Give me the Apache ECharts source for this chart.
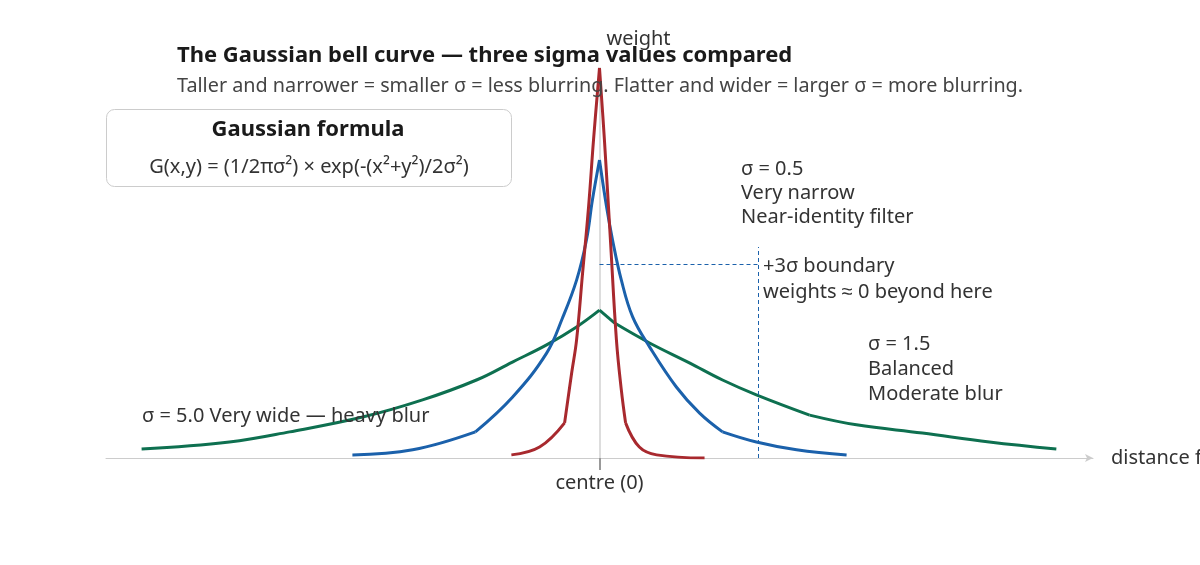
<!DOCTYPE html>
<html>
<head>
<meta charset="utf-8">
<script src="https://cdn.jsdelivr.net/npm/echarts@6/dist/echarts.min.js"></script>
<style>
  html, body { margin: 0; padding: 0; background: #fff; }
  #chart { width: 1200px; height: 565px; }
</style>
</head>
<body>
<div id="chart"></div>
<script>
// points: [distance, weight]
const sigma05 = [
  [-2.5, 0.008], [-1.7, 0.028], [-0.99, 0.09], [-0.79, 0.218], [-0.65, 0.303],
  [-0.48, 0.474], [-0.31, 0.644], [-0.17, 0.815], [0, 1.0], [0.14, 0.815],
  [0.31, 0.559], [0.48, 0.303], [0.62, 0.174], [0.74, 0.09], [1.13, 0.028],
  [1.62, 0.008], [2.98, 0.0]
];
const sigma15 = [
  [-7.01, 0.008], [-5.3, 0.021], [-3.52, 0.067], [-2.47, 0.156], [-1.5, 0.269],
  [-1.05, 0.359], [-0.65, 0.456], [-0.37, 0.559], [-0.2, 0.662], [0, 0.764],
  [0.2, 0.644], [0.37, 0.559], [0.62, 0.456], [0.94, 0.362], [1.42, 0.285],
  [2.18, 0.182], [2.84, 0.115], [3.49, 0.067], [4.45, 0.041], [5.59, 0.021],
  [7.01, 0.008]
];
const sigma50 = [
  [-12.99, 0.023], [-10.5, 0.041], [-8.79, 0.067], [-6.72, 0.105], [-5.02, 0.149],
  [-3.49, 0.2], [-2.47, 0.246], [-1.5, 0.29], [-0.65, 0.336], [0, 0.379],
  [0.43, 0.346], [1.42, 0.295], [2.55, 0.244], [3.49, 0.2], [4.45, 0.162],
  [5.96, 0.11], [7.29, 0.085], [9.16, 0.064], [11.06, 0.041], [12.96, 0.023]
];
// where the drawn curves have visible corners
const corners05 = [-0.99, 0, 0.74];
const corners15 = [-3.52, 0, 3.49];
const corners50 = [0, 0.43, 5.96];

const boundaryX = 4.5;
const boundaryY = 0.497;
const boundaryTop = 0.541;

const font = "'Segoe UI', 'Noto Sans', sans-serif";
const txt = '#333';

const myChart = echarts.init(document.getElementById('chart'));

// smooth each piece between corners on its own so the corners stay sharp
const curve = (name, data, corners, color) => {
  const pieces = [];
  let cur = [];
  data.forEach((p) => {
    cur.push(p);
    if (corners.includes(p[0])) {
      if (cur.length > 1) pieces.push(cur);
      cur = [p];
    }
  });
  if (cur.length > 1) pieces.push(cur);
  return pieces.map((piece) => ({
    name: name,
    type: 'line',
    data: piece,
    smooth: 0.4,
    showSymbol: false,
    lineStyle: { color: color, width: 3, join: 'round' },
    z: 3
  }));
};

const option = {
  animation: false,
  textStyle: { fontFamily: font },
  title: {
    text: 'The Gaussian bell curve — three sigma values compared',
    subtext: 'Taller and narrower = smaller σ = less blurring. Flatter and wider = larger σ = more blurring.',
    left: 172,
    top: 40,
    itemGap: 9,
    textStyle: { fontFamily: font, fontSize: 22, fontWeight: 'bold', color: '#1a1a1a' },
    subtextStyle: { fontFamily: font, fontSize: 19.8, color: '#444' }
  },
  grid: { left: 106, right: 107, top: 68, bottom: 107, outerBoundsMode: 'none' },
  xAxis: {
    type: 'value',
    min: -14,
    max: 14,
    name: 'distance from centre',
    nameGap: 18,
    nameTextStyle: { fontSize: 20, color: txt },
    splitLine: { show: false },
    axisLine: {
      lineStyle: { color: '#ccc', width: 1 },
      symbol: ['none', 'arrow'],
      symbolSize: [6, 8]
    },
    axisTick: { customValues: [0], length: 12, lineStyle: { color: '#999', width: 2 } },
    axisLabel: {
      customValues: [0],
      formatter: (v) => (v === 0 ? 'centre (0)' : ''),
      fontSize: 20,
      color: txt,
      margin: 15
    }
  },
  yAxis: {
    type: 'value',
    min: 0,
    max: 1,
    name: 'weight',
    nameGap: 19,
    nameTextStyle: { fontSize: 20, color: txt, align: 'left', padding: [0, 0, 0, 7] },
    splitLine: { show: false },
    axisLine: { lineStyle: { color: '#ddd', width: 2 } },
    axisTick: { show: false },
    axisLabel: { show: false }
  },
  series: [
    ...curve('σ = 5.0', sigma50, corners50, '#0e7050'),
    ...curve('σ = 1.5', sigma15, corners15, '#1b61ab'),
    ...curve('σ = 0.5', sigma05, corners05, '#a8292e'),
    {
      type: 'line',
      data: [],
      markLine: {
        silent: true,
        symbol: 'none',
        label: { show: false },
        lineStyle: { color: '#1b61ab', type: [4, 3], width: 1 },
        data: [
          [{ coord: [0, boundaryY] }, { coord: [boundaryX, boundaryY] }],
          [{ coord: [boundaryX, 0] }, { coord: [boundaryX, boundaryTop] }]
        ]
      }
    }
  ],
  graphic: [
    {
      type: 'rect',
      shape: { x: 106.5, y: 109.5, width: 405, height: 77, r: 8 },
      style: { fill: '#fff', stroke: '#ccc', lineWidth: 1 },
      z: 10
    },
    {
      type: 'text', x: 308, y: 130, z: 11,
      style: { text: 'Gaussian formula', font: 'bold 22px ' + font, fill: '#1a1a1a', align: 'center', verticalAlign: 'middle' }
    },
    {
      type: 'text', x: 309, y: 167, z: 11,
      style: { text: 'G(x,y) = (1/2πσ²) × exp(-(x²+y²)/2σ²)', font: '20px ' + font, fill: txt, align: 'center', verticalAlign: 'middle' }
    },
    {
      type: 'text', x: 741, y: 157, z: 11,
      style: { text: 'σ = 0.5\nVery narrow\nNear-identity filter', font: '20px ' + font, lineHeight: 24, fill: txt }
    },
    {
      type: 'text', x: 763, y: 253, z: 11,
      style: { text: '+3σ boundary\nweights ≈ 0 beyond here', font: '20px ' + font, lineHeight: 26, fill: txt }
    },
    {
      type: 'text', x: 868, y: 332, z: 11,
      style: { text: 'σ = 1.5\nBalanced\nModerate blur', font: '20px ' + font, lineHeight: 25, fill: txt }
    },
    {
      type: 'text', x: 142, y: 416, z: 11,
      style: { text: 'σ = 5.0 Very wide — heavy blur', font: '20px ' + font, fill: txt, verticalAlign: 'middle' }
    }
  ]
};

myChart.setOption(option);
</script>
</body>
</html>
